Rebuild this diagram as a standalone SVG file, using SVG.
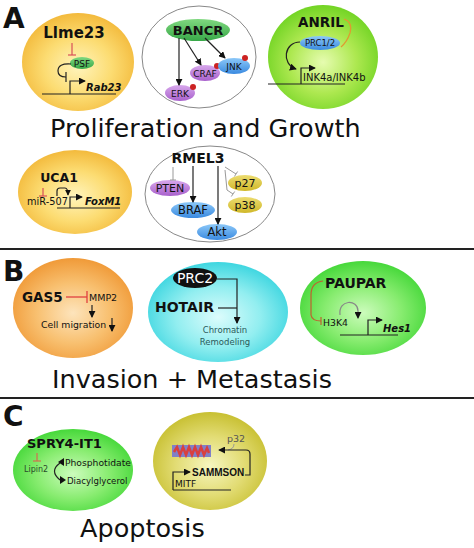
<svg xmlns="http://www.w3.org/2000/svg" width="474" height="548" viewBox="0 0 474 548">
<defs>
<radialGradient id="gYellow" cx="50%" cy="55%" r="55%"><stop offset="0" stop-color="#fff4bc"/><stop offset="0.55" stop-color="#fcdc72"/><stop offset="1" stop-color="#f3ba3c"/></radialGradient>
<radialGradient id="gGreenA" cx="50%" cy="55%" r="55%"><stop offset="0" stop-color="#e6fcb0"/><stop offset="0.55" stop-color="#ade850"/><stop offset="1" stop-color="#72d424"/></radialGradient>
<radialGradient id="gOrange" cx="50%" cy="55%" r="55%"><stop offset="0" stop-color="#fde4bc"/><stop offset="0.55" stop-color="#f8c070"/><stop offset="1" stop-color="#f09a38"/></radialGradient>
<radialGradient id="gCyan" cx="50%" cy="55%" r="55%"><stop offset="0" stop-color="#dcfcfc"/><stop offset="0.55" stop-color="#92eef0"/><stop offset="1" stop-color="#3ed6e0"/></radialGradient>
<radialGradient id="gGreen2" cx="50%" cy="55%" r="55%"><stop offset="0" stop-color="#ccfcbc"/><stop offset="0.55" stop-color="#88ec70"/><stop offset="1" stop-color="#46d83a"/></radialGradient>
<radialGradient id="gOlive" cx="50%" cy="55%" r="55%"><stop offset="0" stop-color="#f6f6c0"/><stop offset="0.55" stop-color="#e2dc74"/><stop offset="1" stop-color="#c8c032"/></radialGradient>
<linearGradient id="gSmallGreen" x1="0" y1="0" x2="0" y2="1"><stop offset="0" stop-color="#80d880"/><stop offset="1" stop-color="#38a848"/></linearGradient>
<linearGradient id="gPurple" x1="0" y1="0" x2="0" y2="1"><stop offset="0" stop-color="#d8a8ec"/><stop offset="1" stop-color="#a860cc"/></linearGradient>
<linearGradient id="gBlue" x1="0" y1="0" x2="0" y2="1"><stop offset="0" stop-color="#8cc8f8"/><stop offset="1" stop-color="#3a8ae0"/></linearGradient>
<linearGradient id="gGold" x1="0" y1="0" x2="0" y2="1"><stop offset="0" stop-color="#ecdc70"/><stop offset="1" stop-color="#d0b82a"/></linearGradient>
<marker id="arr" viewBox="0 0 8 8" refX="7" refY="4" markerWidth="7" markerHeight="7" markerUnits="userSpaceOnUse" orient="auto"><path d="M0,0 L8,4 L0,8 z" fill="#111"/></marker>
<marker id="arrS" viewBox="0 0 8 8" refX="7" refY="4" markerWidth="6" markerHeight="6" markerUnits="userSpaceOnUse" orient="auto"><path d="M0,0 L8,4 L0,8 z" fill="#111"/></marker>
</defs>
<style>
text{font-family:"DejaVu Sans",Verdana,sans-serif;fill:#111}
.big{font-size:25.5px;fill:#111}
.panel{font-size:28px;font-weight:bold}
.lbl{font-weight:bold}
.gene{font-weight:bold;font-style:italic;font-size:10px}
.c{text-anchor:middle}
.ln{fill:none;stroke:#222;stroke-width:1.2}
.red{fill:none;stroke:#d8505a;stroke-width:1.2}
.gray{fill:none;stroke:#999;stroke-width:1}
.bg{stroke:#888;stroke-width:1;fill:#fff}
</style>
<rect width="474" height="548" fill="#fff"/>

<text class="panel" x="3" y="28">A</text>
<text class="panel" x="3" y="281">B</text>
<text class="panel" x="3" y="426">C</text>
<text class="big" x="50" y="137">Proliferation and Growth</text>
<text class="big" x="52" y="388">Invasion + Metastasis</text>
<text class="big" x="80" y="537">Apoptosis</text>
<line x1="0" y1="249" x2="474" y2="249" stroke="#222" stroke-width="2"/>
<line x1="0" y1="398" x2="474" y2="398" stroke="#222" stroke-width="2"/>

<g id="llme23">
<ellipse cx="78" cy="62" rx="56" ry="49" fill="url(#gYellow)"/>
<text class="lbl c" x="74" y="38" font-size="15">Llme23</text>
<ellipse cx="82" cy="63" rx="12" ry="6" fill="url(#gSmallGreen)"/>
<text class="c" x="82" y="66.5" font-size="9" fill="#123">PSF</text>
<text class="gene" x="86" y="91">Rab23</text>
</g>

<g id="bancr">
<ellipse class="bg" cx="199" cy="57" rx="57" ry="51"/>
<ellipse cx="198" cy="30" rx="32" ry="11" fill="url(#gSmallGreen)"/>
<text class="lbl c" x="198" y="35" font-size="13">BANCR</text>
<ellipse cx="180" cy="93" rx="15" ry="8" fill="url(#gPurple)"/>
<text class="c" x="180" y="96.5" font-size="9" fill="#3a1a5a">ERK</text>
<circle cx="193" cy="87" r="3" fill="#cc2222"/>
<ellipse cx="205" cy="73" rx="15" ry="8" fill="url(#gPurple)"/>
<text class="c" x="205" y="76.5" font-size="9" fill="#3a1a5a">CRAF</text>
<circle cx="217" cy="66" r="3" fill="#cc2222"/>
<ellipse cx="234" cy="66" rx="16" ry="8" fill="url(#gBlue)"/>
<text class="c" x="234" y="69.5" font-size="9" fill="#1a2a6a">JNK</text>
<circle cx="245" cy="58" r="3" fill="#cc2222"/>
</g>

<g id="anril">
<ellipse cx="323" cy="57" rx="55" ry="52" fill="url(#gGreenA)"/>
<text class="lbl c" x="321" y="27" font-size="13.5">ANRIL</text>
<ellipse cx="320" cy="43" rx="20" ry="7" fill="url(#gBlue)"/>
<text class="c" x="320" y="46" font-size="8.5" fill="#1a2a6a">PRC1/2</text>
<text x="303" y="81" font-size="10" fill="#333">INK4a/INK4b</text>
</g>

<g id="uca1">
<ellipse cx="75" cy="192" rx="57" ry="42" fill="url(#gYellow)"/>
<text class="lbl c" x="59" y="182" font-size="12.5">UCA1</text>
<text x="27" y="205" font-size="9.8" fill="#444">miR-507</text>
<text class="gene" x="85" y="205" font-size="9.5">FoxM1</text>
</g>

<g id="rmel3">
<ellipse class="bg" cx="210" cy="194" rx="65" ry="48"/>
<text class="lbl c" x="198" y="163" font-size="14">RMEL3</text>
<ellipse cx="170" cy="188" rx="20" ry="8" fill="url(#gPurple)"/>
<text class="c" x="170" y="192" font-size="11" fill="#2a1040">PTEN</text>
<ellipse cx="193" cy="210" rx="22" ry="8" fill="url(#gBlue)"/>
<text class="c" x="193" y="214" font-size="11.5" fill="#10204a">BRAF</text>
<ellipse cx="217" cy="232" rx="20" ry="8" fill="url(#gBlue)"/>
<text class="c" x="217" y="236" font-size="11.5" fill="#10204a">Akt</text>
<ellipse cx="245" cy="183" rx="17" ry="8" fill="url(#gGold)"/>
<text class="c" x="245" y="187" font-size="11" fill="#222">p27</text>
<ellipse cx="245" cy="205" rx="17" ry="8" fill="url(#gGold)"/>
<text class="c" x="245" y="209" font-size="11" fill="#222">p38</text>
</g>

<g id="gas5">
<ellipse cx="73" cy="308" rx="60" ry="50" fill="url(#gOrange)"/>
<text class="lbl" x="22" y="302" font-size="13.5">GAS5</text>
<text x="89" y="301" font-size="9.5" fill="#333">MMP2</text>
<text x="41" y="328" font-size="9.3" fill="#333">Cell migration</text>
</g>

<g id="hotair">
<ellipse cx="218" cy="312" rx="70" ry="50" fill="url(#gCyan)"/>
<ellipse cx="195" cy="278" rx="22" ry="10" fill="#111"/>
<text class="c" x="195" y="283" font-size="14" style="fill:#fff">PRC2</text>
<text class="lbl" x="155" y="312" font-size="14">HOTAIR</text>
<text class="c" x="225" y="333" font-size="8.5" style="fill:#2a5a5a">Chromatin</text>
<text class="c" x="225" y="345" font-size="8.5" style="fill:#2a5a5a">Remodeling</text>
</g>

<g id="paupar">
<ellipse cx="363" cy="308" rx="63" ry="47" fill="url(#gGreen2)"/>
<text class="lbl" x="325" y="288" font-size="14">PAUPAR</text>
<text x="323" y="326" font-size="9.3" fill="#333">H3K4</text>
<text class="gene" x="383" y="332">Hes1</text>
</g>

<g id="spry4-it1">
<ellipse cx="73" cy="470" rx="60" ry="41" fill="url(#gGreen2)"/>
<text class="lbl" x="27" y="448" font-size="13">SPRY4-IT1</text>
<text x="24" y="472" font-size="8" style="fill:#2a4a2a">Lipin2</text>
<text x="65" y="466" font-size="9.2" fill="#222">Phosphotidate</text>
<text x="67" y="484" font-size="8.6" fill="#222">Diacylglycerol</text>
</g>

<g id="sammson">
<ellipse cx="210" cy="461" rx="57" ry="49" fill="url(#gOlive)"/>
<rect x="172" y="445" width="39" height="12" fill="#8080c8"/>
<polyline points="174,452 177,447 180,455 183,447 186,455 189,447 192,455 195,447 198,455 201,447 204,455 207,448 209,453" fill="none" stroke="#d84040" stroke-width="2.5"/>
<text x="227" y="442" font-size="9.5" style="fill:#555">p32</text>
<text class="lbl" x="192" y="476" font-size="10" style="font-family:'Liberation Sans',Arial,sans-serif">SAMMSON</text>
<text x="175" y="487" font-size="9" fill="#333">MITF</text>
</g>

<g id="connectors">
<line class="red" x1="72" y1="43" x2="72" y2="55"/>
<line class="red" x1="68" y1="55" x2="76" y2="55"/>
<path class="ln" d="M71,64 Q58,63 58,71 Q58,77 66,77"/>
<line class="ln" x1="66" y1="72" x2="66" y2="82"/>
<path class="ln" d="M70,94 L70,81 L85,81" marker-end="url(#arr)"/>
<line class="ln" x1="42" y1="94" x2="116" y2="94"/>
<line class="ln" x1="179" y1="38" x2="179" y2="85" marker-end="url(#arr)"/>
<line class="ln" x1="184" y1="38" x2="201" y2="65" marker-end="url(#arr)"/>
<line class="ln" x1="205" y1="38" x2="225" y2="58" marker-end="url(#arr)"/>
<path d="M344,19 Q353,22 350,33 Q347,42 341,47" fill="none" stroke="#e09a30" stroke-width="1.2"/>
<path class="ln" d="M300,42 C284,42 281,64 296,69" marker-end="url(#arr)"/>
<path class="ln" d="M301,84 L301,68 L315,68" marker-end="url(#arr)"/>
<line class="ln" x1="268" y1="84" x2="345" y2="84"/>
<line class="red" x1="43" y1="188" x2="43" y2="196"/>
<line class="red" x1="39" y1="196" x2="47" y2="196"/>
<path class="ln" d="M57,196 L57,191 Q57,188 60,188 L65,188 Q68,188 68,195" marker-end="url(#arrS)"/>
<path class="ln" d="M70,208 L70,197 L82,197" marker-end="url(#arr)"/>
<line class="ln" x1="57" y1="208" x2="120" y2="208"/>
<line class="gray" x1="173" y1="167" x2="173" y2="180"/>
<line class="gray" x1="170" y1="180" x2="176" y2="180"/>
<line class="ln" x1="193" y1="166" x2="193" y2="202" marker-end="url(#arr)"/>
<line class="ln" x1="218" y1="166" x2="218" y2="224" marker-end="url(#arr)"/>
<line class="gray" x1="225" y1="167" x2="236" y2="174"/>
<line class="gray" x1="234.4" y1="176.5" x2="237.6" y2="171.5"/>
<polyline class="gray" points="225,170 227,190 233,194"/>
<line class="gray" x1="231.3" y1="196.5" x2="234.7" y2="191.5"/>
<line x1="66" y1="297" x2="87" y2="297" stroke="#e04040" stroke-width="1.3"/>
<line x1="87" y1="291" x2="87" y2="303" stroke="#e04040" stroke-width="1.3"/>
<line class="ln" x1="92" y1="305" x2="92" y2="317" marker-end="url(#arr)"/>
<line class="ln" x1="112" y1="318" x2="112" y2="331" marker-end="url(#arr)"/>
<path class="ln" d="M217,279 L237,279 L237,323" marker-end="url(#arr)"/>
<line class="ln" x1="218" y1="308" x2="237" y2="308"/>
<path d="M323,281 C313,282 311,288 311,295 L311,315 Q312,321 321,321" fill="none" stroke="#c06030" stroke-width="1.2"/>
<line x1="321" y1="317" x2="321" y2="325" stroke="#c06030" stroke-width="1.2"/>
<path d="M340,315 C338,299 358,299 358,311 L358,318" fill="none" stroke="#888" stroke-width="1.2" marker-end="url(#arr)"/>
<path class="ln" d="M368,335 L368,320 L382,320" marker-end="url(#arr)"/>
<line class="ln" x1="340" y1="335" x2="398" y2="335"/>
<line x1="37" y1="453" x2="37" y2="461" stroke="#d07050" stroke-width="1.2"/>
<line x1="33" y1="461" x2="41" y2="461" stroke="#d07050" stroke-width="1.2"/>
<path class="ln" d="M60,463 Q49,471 60,480"/>
<path d="M58,462 L64,458 L64,466 z" fill="#111"/>
<path d="M66,480 L60,476 L60,484 z" fill="#111"/>
<path d="M234,444 Q234,449 228,450" fill="none" stroke="#999" stroke-width="1"/>
<path class="ln" d="M245,475 L250,475 L250,454 Q250,450 246,450 L219,450" marker-end="url(#arr)"/>
<path class="ln" d="M173,490 L173,472 L190,472" marker-end="url(#arr)"/>
<line class="ln" x1="173" y1="490" x2="231" y2="490"/>
</g>
</svg>
